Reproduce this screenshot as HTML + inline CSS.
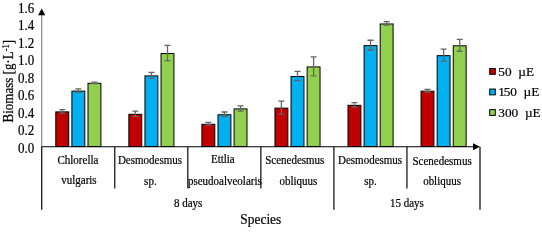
<!DOCTYPE html>
<html><head><meta charset="utf-8"><style>
html,body{margin:0;padding:0;background:#fff;width:542px;height:229px;overflow:hidden}
svg{display:block;will-change:transform}
text{font-family:"Liberation Serif",serif;fill:#000;stroke:#000;stroke-width:0.2px}
.tk{font-size:13px}
.ct{font-size:11px}
.sp{font-size:13.4px}
.yt{font-size:13px}
.lg{font-size:13.3px;white-space:pre}
</style></head><body>
<svg width="542" height="229" viewBox="0 0 542 229">
<rect x="55.80" y="111.88" width="12.90" height="34.62" fill="#C00000" stroke="#000" stroke-width="1"/>
<rect x="71.90" y="91.10" width="12.90" height="55.40" fill="#00B0F0" stroke="#000" stroke-width="1"/>
<rect x="88.00" y="83.33" width="12.90" height="63.17" fill="#92D050" stroke="#000" stroke-width="1"/>
<rect x="128.85" y="114.33" width="12.90" height="32.17" fill="#C00000" stroke="#000" stroke-width="1"/>
<rect x="144.95" y="75.91" width="12.90" height="70.59" fill="#00B0F0" stroke="#000" stroke-width="1"/>
<rect x="161.05" y="53.57" width="12.90" height="92.93" fill="#92D050" stroke="#000" stroke-width="1"/>
<rect x="201.90" y="124.28" width="12.90" height="22.22" fill="#C00000" stroke="#000" stroke-width="1"/>
<rect x="218.00" y="114.76" width="12.90" height="31.74" fill="#00B0F0" stroke="#000" stroke-width="1"/>
<rect x="234.10" y="108.91" width="12.90" height="37.59" fill="#92D050" stroke="#000" stroke-width="1"/>
<rect x="274.95" y="108.13" width="12.90" height="38.37" fill="#C00000" stroke="#000" stroke-width="1"/>
<rect x="291.05" y="76.53" width="12.90" height="69.97" fill="#00B0F0" stroke="#000" stroke-width="1"/>
<rect x="307.15" y="66.92" width="12.90" height="79.58" fill="#92D050" stroke="#000" stroke-width="1"/>
<rect x="348.00" y="105.33" width="12.90" height="41.17" fill="#C00000" stroke="#000" stroke-width="1"/>
<rect x="364.10" y="45.62" width="12.90" height="100.88" fill="#00B0F0" stroke="#000" stroke-width="1"/>
<rect x="380.20" y="23.97" width="12.90" height="122.53" fill="#92D050" stroke="#000" stroke-width="1"/>
<rect x="421.05" y="91.19" width="12.90" height="55.31" fill="#C00000" stroke="#000" stroke-width="1"/>
<rect x="437.15" y="55.66" width="12.90" height="90.84" fill="#00B0F0" stroke="#000" stroke-width="1"/>
<rect x="453.25" y="45.80" width="12.90" height="100.70" fill="#92D050" stroke="#000" stroke-width="1"/>
<path d="M62.25 109.64V113.13M59.25 109.64H65.25M59.25 113.13H65.25" stroke="#666" stroke-width="1.3" fill="none"/>
<path d="M78.35 88.86V92.35M75.35 88.86H81.35M75.35 92.35H81.35" stroke="#666" stroke-width="1.3" fill="none"/>
<path d="M94.45 82.14V83.53M91.45 82.14H97.45M91.45 83.53H97.45" stroke="#666" stroke-width="1.3" fill="none"/>
<path d="M135.30 111.21V116.45M132.30 111.21H138.30M132.30 116.45H138.30" stroke="#666" stroke-width="1.3" fill="none"/>
<path d="M151.40 72.45V78.38M148.40 72.45H154.40M148.40 78.38H154.40" stroke="#666" stroke-width="1.3" fill="none"/>
<path d="M167.50 45.47V60.66M164.50 45.47H170.50M164.50 60.66H170.50" stroke="#666" stroke-width="1.3" fill="none"/>
<path d="M208.35 122.38V125.17M205.35 122.38H211.35M205.35 125.17H211.35" stroke="#666" stroke-width="1.3" fill="none"/>
<path d="M224.45 111.99V116.53M221.45 111.99H227.45M221.45 116.53H227.45" stroke="#666" stroke-width="1.3" fill="none"/>
<path d="M240.55 105.79V111.03M237.55 105.79H243.55M237.55 111.03H243.55" stroke="#666" stroke-width="1.3" fill="none"/>
<path d="M281.40 101.08V114.18M278.40 101.08H284.40M278.40 114.18H284.40" stroke="#666" stroke-width="1.3" fill="none"/>
<path d="M297.50 71.40V80.65M294.50 71.40H300.50M294.50 80.65H300.50" stroke="#666" stroke-width="1.3" fill="none"/>
<path d="M313.60 56.91V75.94M310.60 56.91H316.60M310.60 75.94H316.60" stroke="#666" stroke-width="1.3" fill="none"/>
<path d="M354.45 102.56V107.10M351.45 102.56H357.45M351.45 107.10H357.45" stroke="#666" stroke-width="1.3" fill="none"/>
<path d="M370.55 40.23V50.01M367.55 40.23H373.55M367.55 50.01H373.55" stroke="#666" stroke-width="1.3" fill="none"/>
<path d="M386.65 21.72V25.22M383.65 21.72H389.65M383.65 25.22H389.65" stroke="#666" stroke-width="1.3" fill="none"/>
<path d="M427.50 89.38V92.00M424.50 89.38H430.50M424.50 92.00H430.50" stroke="#666" stroke-width="1.3" fill="none"/>
<path d="M443.60 49.22V61.10M440.60 49.22H446.60M440.60 61.10H446.60" stroke="#666" stroke-width="1.3" fill="none"/>
<path d="M459.70 39.36V51.23M456.70 39.36H462.70M456.70 51.23H462.70" stroke="#666" stroke-width="1.3" fill="none"/>
<line x1="41.7" y1="147.0" x2="41.7" y2="14" stroke="#999" stroke-width="1.4"/>
<polygon points="38.1,15.2 45.300000000000004,15.2 41.7,8.6" fill="#000"/>
<line x1="41.7" y1="146.75" x2="473.99999999999994" y2="146.75" stroke="#000" stroke-width="1.2"/>
<polygon points="472.99999999999994,143.15 472.99999999999994,150.35 479.99999999999994,146.75" fill="#000"/>
<line x1="41.70" y1="146.75" x2="41.70" y2="209.8" stroke="#1a1a1a" stroke-width="1.3"/>
<line x1="114.75" y1="146.75" x2="114.75" y2="188.6" stroke="#1a1a1a" stroke-width="1.3"/>
<line x1="187.80" y1="146.75" x2="187.80" y2="188.6" stroke="#1a1a1a" stroke-width="1.3"/>
<line x1="260.85" y1="146.75" x2="260.85" y2="188.6" stroke="#1a1a1a" stroke-width="1.3"/>
<line x1="333.90" y1="146.75" x2="333.90" y2="209.8" stroke="#1a1a1a" stroke-width="1.3"/>
<line x1="406.95" y1="146.75" x2="406.95" y2="188.6" stroke="#1a1a1a" stroke-width="1.3"/>
<line x1="480.00" y1="146.75" x2="480.00" y2="209.8" stroke="#1a1a1a" stroke-width="1.3"/>
<text transform="translate(34.30,152.70) scale(1,1.04)" class="tk" text-anchor="end">0.0</text>
<text transform="translate(34.30,135.24) scale(1,1.04)" class="tk" text-anchor="end">0.2</text>
<text transform="translate(34.30,117.78) scale(1,1.04)" class="tk" text-anchor="end">0.4</text>
<text transform="translate(34.30,100.32) scale(1,1.04)" class="tk" text-anchor="end">0.6</text>
<text transform="translate(34.30,82.86) scale(1,1.04)" class="tk" text-anchor="end">0.8</text>
<text transform="translate(34.30,65.40) scale(1,1.04)" class="tk" text-anchor="end">1.0</text>
<text transform="translate(34.30,47.94) scale(1,1.04)" class="tk" text-anchor="end">1.2</text>
<text transform="translate(34.30,30.48) scale(1,1.04)" class="tk" text-anchor="end">1.4</text>
<text transform="translate(34.30,13.02) scale(1,1.04)" class="tk" text-anchor="end">1.6</text>
<text transform="translate(77.92,164.20) scale(1,1.06)" class="ct" text-anchor="middle">Chlorella</text>
<text transform="translate(78.92,184.20) scale(1,1.06)" class="ct" text-anchor="middle">vulgaris</text>
<text transform="translate(149.97,163.80) scale(1,1.06)" class="ct" text-anchor="middle">Desmodesmus</text>
<text transform="translate(150.38,185.40) scale(1,1.06)" class="ct" text-anchor="middle">sp.</text>
<text transform="translate(222.83,163.40) scale(1,1.06)" class="ct" text-anchor="middle">Ettlia</text>
<text transform="translate(224.83,184.60) scale(1,1.06)" class="ct" text-anchor="middle">pseudoalveolaris</text>
<text transform="translate(294.77,164.10) scale(1,1.06)" class="ct" text-anchor="middle">Scenedesmus</text>
<text transform="translate(298.37,184.50) scale(1,1.06)" class="ct" text-anchor="middle">obliquus</text>
<text transform="translate(370.07,164.20) scale(1,1.06)" class="ct" text-anchor="middle">Desmodesmus</text>
<text transform="translate(370.42,185.30) scale(1,1.06)" class="ct" text-anchor="middle">sp.</text>
<text transform="translate(442.07,164.60) scale(1,1.06)" class="ct" text-anchor="middle">Scenedesmus</text>
<text transform="translate(442.07,185.20) scale(1,1.06)" class="ct" text-anchor="middle">obliquus</text>
<text transform="translate(188.10,206.60) scale(1,1.06)" class="ct" text-anchor="middle">8 days</text>
<text transform="translate(406.95,206.60) scale(1,1.06)" class="ct" text-anchor="middle">15 days</text>
<text transform="translate(260.80,223.60) scale(1,1.02)" class="sp" text-anchor="middle">Species</text>
<text transform="translate(12.8,81.2) rotate(-90) scale(1,1.1)" text-anchor="middle" class="yt">Biomass [g·L<tspan font-size="8.5" dy="-3.6">-1</tspan><tspan dy="3.6">]</tspan></text>
<rect x="489.7" y="68.50" width="5.6" height="5.8" fill="#C00000" stroke="#000" stroke-width="1"/>
<text transform="translate(498.30,75.60) scale(1,1.0)" class="lg" xml:space="preserve">50  µE</text>
<rect x="489.7" y="89.05" width="5.6" height="5.8" fill="#00B0F0" stroke="#000" stroke-width="1"/>
<text transform="translate(498.30,96.15) scale(1,1.0)" class="lg" xml:space="preserve">1<tspan dx="-1.3">50  µE</tspan></text>
<rect x="489.7" y="109.60" width="5.6" height="5.8" fill="#92D050" stroke="#000" stroke-width="1"/>
<text transform="translate(498.30,116.70) scale(1,1.0)" class="lg" xml:space="preserve">300  µE</text>
</svg>
</body></html>
